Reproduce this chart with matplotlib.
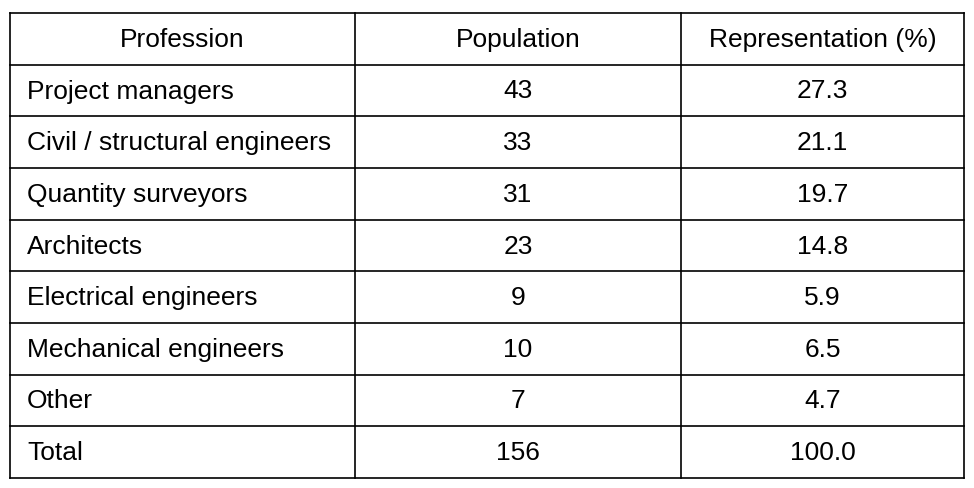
import matplotlib
matplotlib.use('Agg')
import matplotlib.pyplot as plt

headers = ["Profession", "Population", "Representation (%)"]
professions = ["Project managers", "Civil / structural engineers", "Quantity surveyors",
               "Architects", "Electrical engineers", "Mechanical engineers", "Other", "Total"]
population = [43, 33, 31, 23, 9, 10, 7, 156]
representation = ["27.3", "21.1", "19.7", "14.8", "5.9", "6.5", "4.7", "100.0"]

plt.rcParams['font.family'] = ['Liberation Sans Narrow', 'Liberation Sans', 'DejaVu Sans']

fig = plt.figure(figsize=(9.74, 4.89), dpi=100)
ax = fig.add_axes([0, 0, 1, 1])
ax.set_xlim(0, 974)
ax.set_ylim(489, 0)
ax.axis('off')

col_x = [10, 355, 681, 964]
top, bottom = 14, 479
n_rows = len(professions) + 1
row_h = (bottom - top) / n_rows

# grid
for x in col_x:
    ax.plot([x, x], [top, bottom], color='black', lw=1.2)
for i in range(n_rows + 1):
    y = top + i * row_h
    ax.plot([col_x[0], col_x[-1]], [y, y], color='black', lw=1.2)

fs = 19
centers = [(col_x[i] + col_x[i + 1]) / 2 for i in range(3)]
for j, h in enumerate(headers):
    ax.text(centers[j], top + row_h / 2, h, ha='center', va='center', fontsize=fs)

for i, (p, n, r) in enumerate(zip(professions, population, representation)):
    yc = top + (i + 1.5) * row_h
    ax.text(col_x[0] + 17, yc, p, ha='left', va='center', fontsize=fs)
    ax.text(centers[1], yc, str(n), ha='center', va='center', fontsize=fs)
    ax.text(centers[2], yc, r, ha='center', va='center', fontsize=fs)

fig.savefig('out.png', dpi=100)
